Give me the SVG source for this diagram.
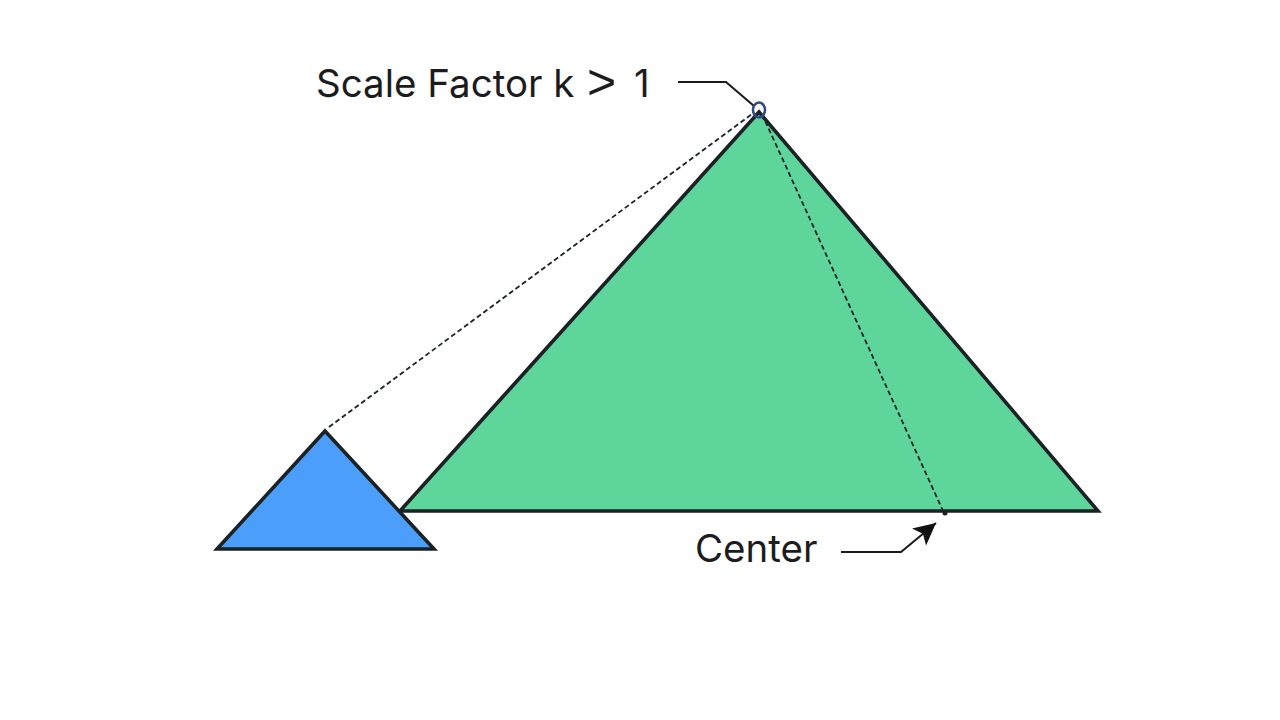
<svg xmlns="http://www.w3.org/2000/svg" width="1280" height="720" viewBox="0 0 1280 720">
<style>
.tri{stroke:#1a2226;stroke-width:3.6;stroke-linejoin:miter}
.dash{fill:none;stroke:#1a2226;stroke-width:1.8;stroke-dasharray:5 3}
.lead{fill:none;stroke:#1a1a1a;stroke-width:2}
.lbl{font-family:"Inter","Liberation Sans",sans-serif;fill:#1c1c1e;font-size:38.5px}
</style>
<defs><marker id="arrow" markerUnits="userSpaceOnUse" markerWidth="26" markerHeight="26" refX="22" refY="11" orient="auto"><path d="M0 0L22 11L0 22L5 11Z" fill="#111"/></marker></defs>
<rect width="1280" height="720" fill="#fff"/>
<g id="large-triangle"><polygon class="tri" points="759,112 1098,511 400,511" fill="#5dd59b"/></g>
<g id="small-triangle"><polygon class="tri" points="325,431 434,549 217,549" fill="#4b9ffb"/></g>
<g id="connectors">
<path class="dash" d="M329 427L752 114"/>
<path class="dash" d="M762 114L944 513"/>
<path class="lead" d="M678 82H726L754 106"/>
<ellipse cx="759" cy="110" rx="6" ry="7.5" fill="none" stroke="#2f4a86" stroke-width="2.6"/>
<circle cx="945" cy="513" r="2.5" fill="#1a2226"/>
<path class="lead" d="M841 552H901L936 523" marker-end="url(#arrow)"/>
</g>
<g id="label-scale"><text class="lbl" x="316" y="97">Scale Factor k <tspan x="587" y="99" font-family="Liberation Sans" font-size="50">&gt;</tspan><tspan x="634" y="97">1</tspan></text></g>
<g id="label-center"><text class="lbl" x="695" y="562">Center</text></g>
</svg>
